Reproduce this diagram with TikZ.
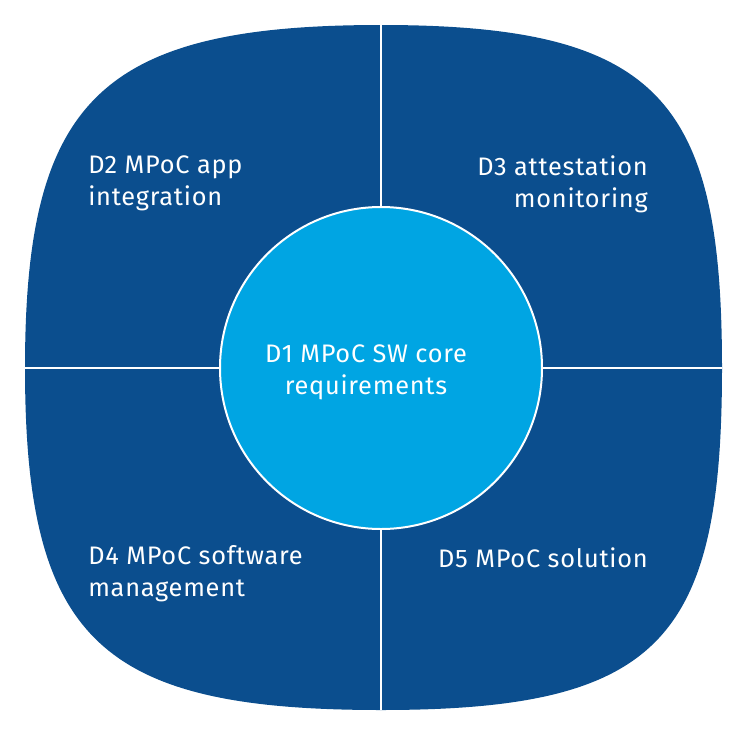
\documentclass[tikz,border=0pt]{standalone}
\usepackage{fontspec}
\setmainfont{Fira Sans}[LetterSpace=3]
\usepackage{tikz}
\usetikzlibrary{positioning}
\definecolor{darkblue}{HTML}{0B4E8E}
\definecolor{lightblue}{HTML}{00A5E3}
\tikzset{
    label/.style={text=white, font=\fontsize{19}{24}\selectfont, inner sep=0pt},
    divider/.style={white, line width=1.5pt}
}
\begin{document}
\begin{tikzpicture}[x=0.75pt, y=-0.75pt]
    \useasboundingbox (0,0) rectangle (750,739);
    % outer rounded square, drawn as four cubic quarters
    \coordinate (top) at (381,25);
    \coordinate (right) at (722,368);
    \coordinate (bottom) at (381,710);
    \coordinate (left) at (25,368);
    \fill[darkblue] (top)
        .. controls (660,25) and (722,100) .. (right)
        .. controls (722,640) and (660,710) .. (bottom)
        .. controls (100,710) and (25,640) .. (left)
        .. controls (25,100) and (100,25) .. cycle;
    \draw[divider] (top) -- (bottom);
    \draw[divider] (left) -- (right);
    \node[circle, fill=lightblue, draw=white, line width=1.5pt, minimum size=322*0.75pt] (core) at (381,368) {};
    \node[label, align=center] (d1) at (366,372) {D1 MPoC SW core\\requirements};
    \node[label, align=left, anchor=north west] (d2) at (88,155) {D2 MPoC app\\integration};
    \node[label, align=right, anchor=north east] (d3) at (648,155) {D3 attestation\\monitoring};
    \node[label, align=left, anchor=north west] (d4) at (88,545) {D4 MPoC software\\management};
    \node[label, align=right, anchor=north east] (d5) at (648,547) {D5 MPoC solution};
\end{tikzpicture}
\end{document}
